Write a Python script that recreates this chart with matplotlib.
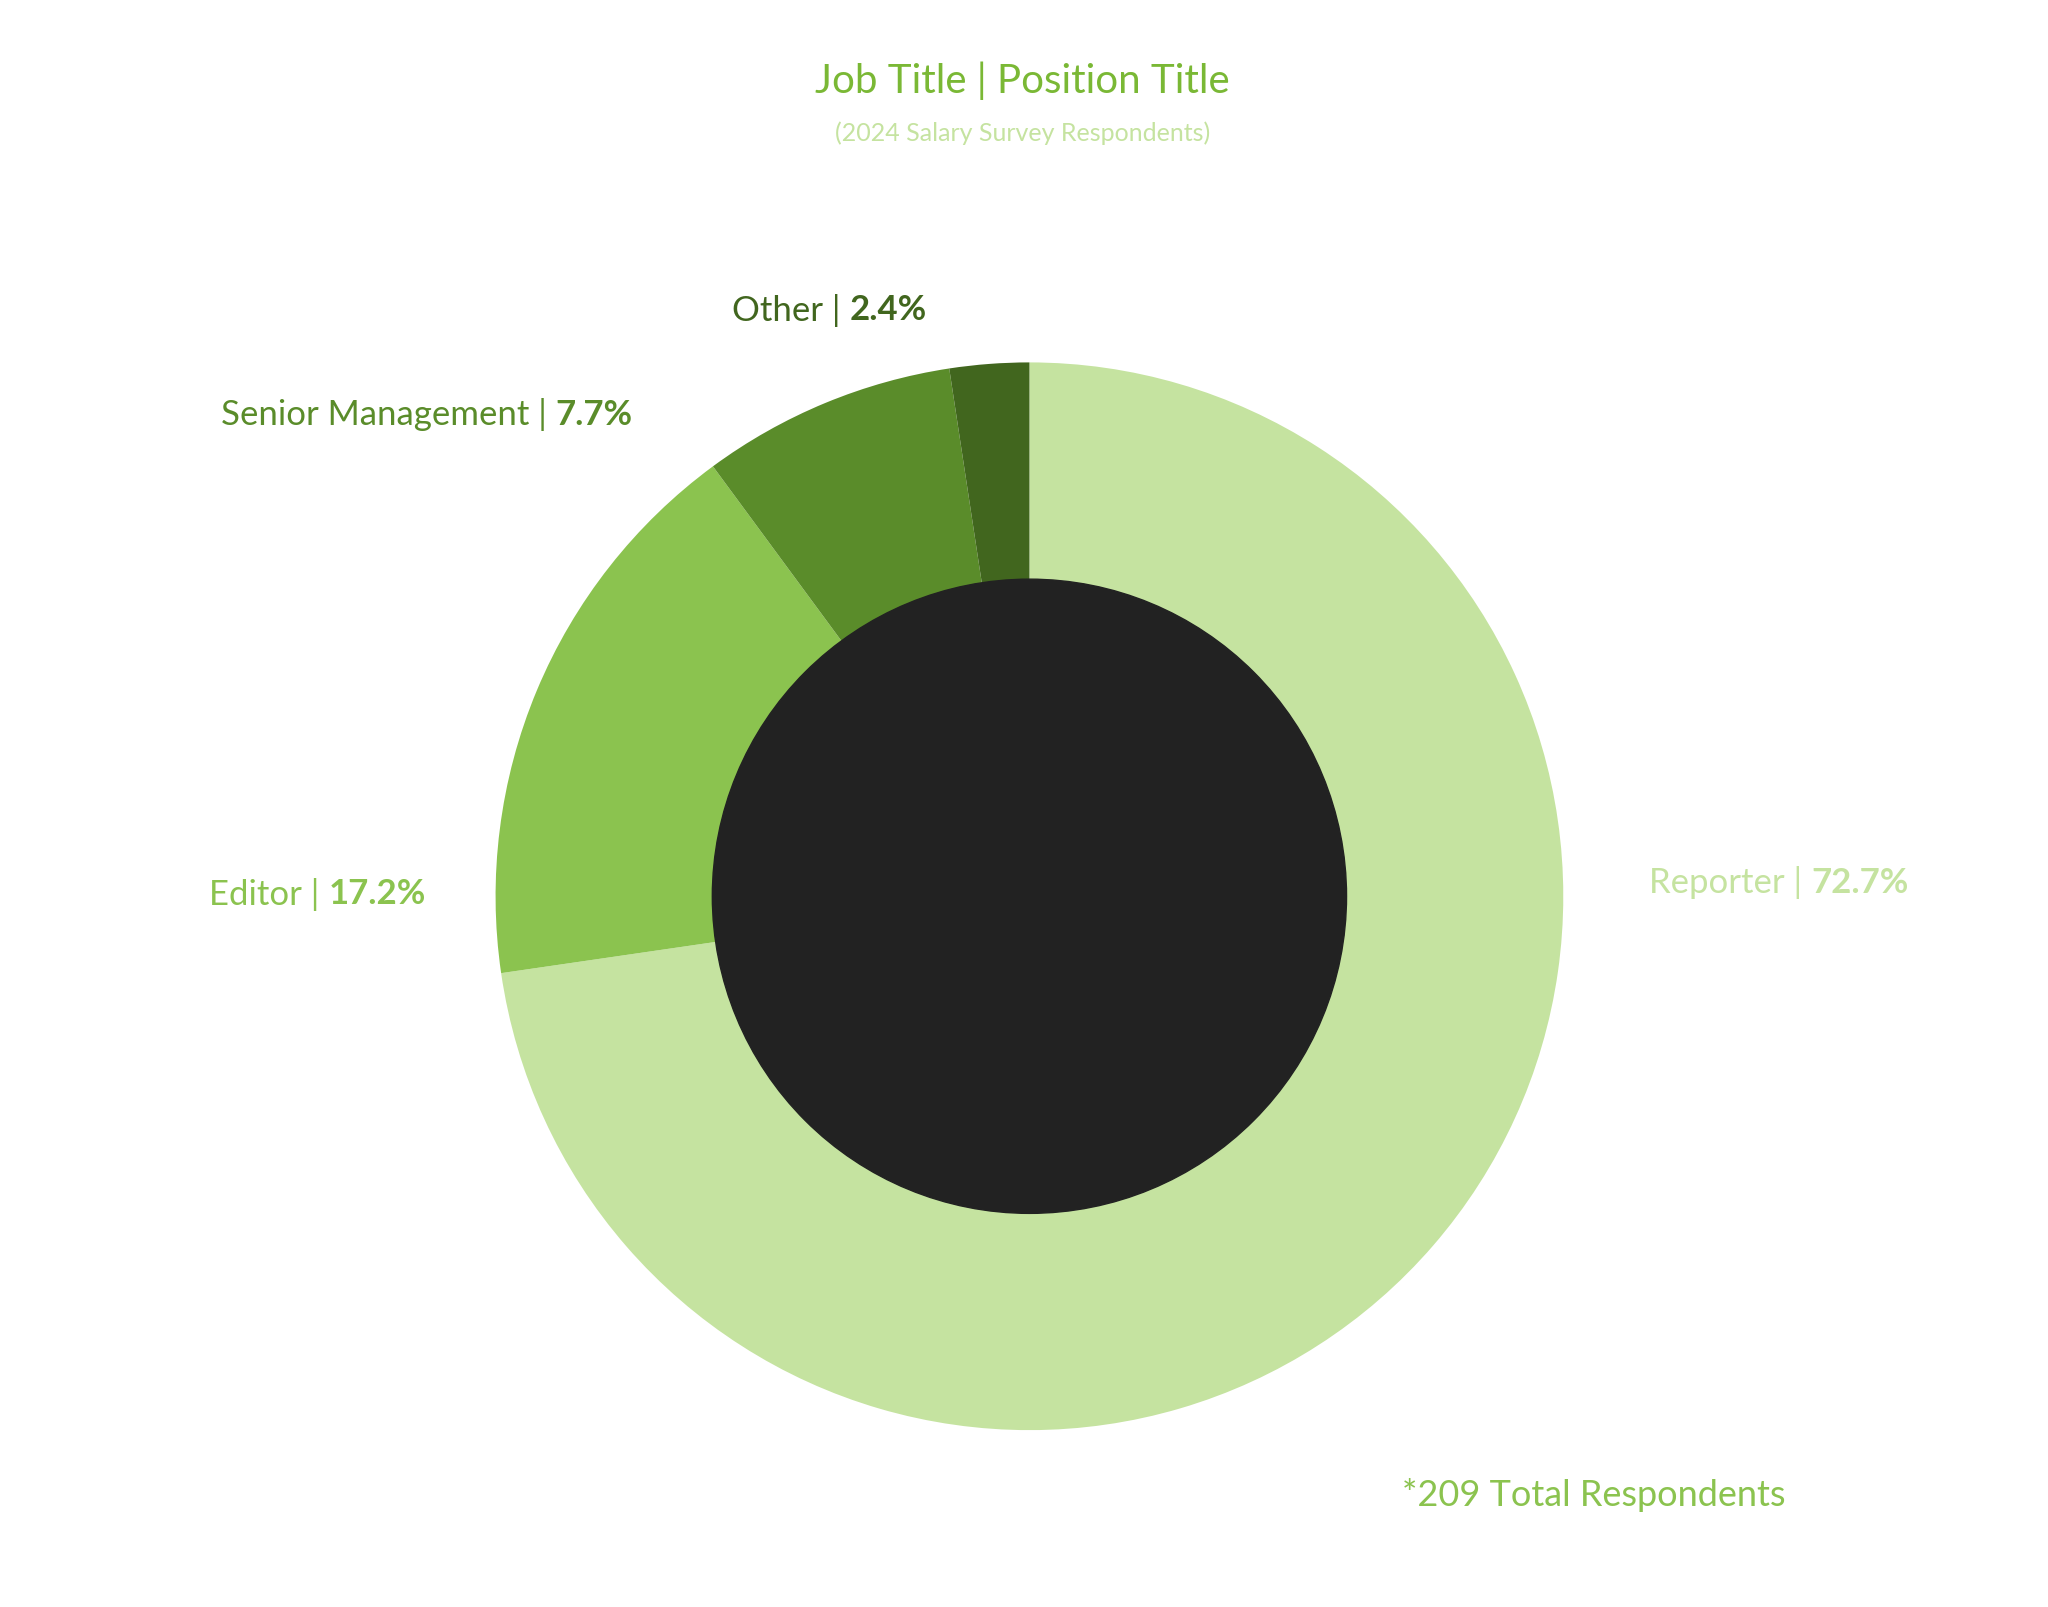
import matplotlib
matplotlib.use("Agg")
import matplotlib.pyplot as plt
from matplotlib.patches import Circle

categories = ["Reporter", "Editor", "Senior Management", "Other"]
values = [72.7, 17.2, 7.7, 2.4]
colors = ["#c5e3a0", "#8bc34f", "#5a8c2a", "#41661e"]
label_pos = {"Reporter": (0.8686, 0.451), "Editor": (0.155, 0.444),
             "Senior Management": (0.2085, 0.742), "Other": (0.405, 0.807)}

plt.rcParams['font.family'] = ['Lato', 'DejaVu Sans']
fig = plt.figure(figsize=(20.48, 16.08), dpi=100)
ax = fig.add_axes([0.2419, 0.110, 0.5215, 0.664])
ax.pie(values, colors=colors, startangle=90, counterclock=False, radius=1,
       wedgeprops=dict(linewidth=0))
ax.add_patch(Circle((0, 0), 0.594, color="#222222", zorder=5))
ax.set_xlim(-1, 1); ax.set_ylim(-1, 1); ax.set_aspect('equal'); ax.axis('off')

fig.text(0.4994, 0.950, "Job Title | Position Title", ha='center', va='center',
         fontsize=29, color="#7ab835")
fig.text(0.4994, 0.917, "(2024 Salary Survey Respondents)", ha='center', va='center',
         fontsize=18, color="#c5e3a0")
fig.text(0.778, 0.070, "*209 Total Respondents", ha='center', va='center',
         fontsize=26, color="#8bc34f")

fig.canvas.draw()
r = fig.canvas.get_renderer()
W = fig.bbox.width
for cat, v, c in zip(categories, values, colors):
    x, y = label_pos[cat]
    t1 = fig.text(0, y, f"{cat} | ", ha='left', va='center', fontsize=25, color=c)
    t2 = fig.text(0, y, f"{v}%", ha='left', va='center', fontsize=25, color=c,
                  fontweight='bold')
    w1 = t1.get_window_extent(r).width / W
    w2 = t2.get_window_extent(r).width / W
    left = x - (w1 + w2) / 2
    t1.set_x(left); t2.set_x(left + w1)

fig.savefig("out.png", dpi=100, facecolor="white")
